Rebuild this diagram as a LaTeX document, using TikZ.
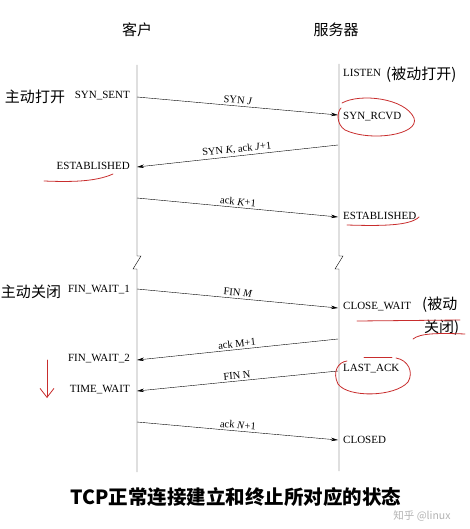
\documentclass[tikz,border=0pt]{standalone}
\usepackage{fontspec}
\setmainfont{Liberation Serif}
\newfontfamily\cjk{Noto Sans CJK SC}
\usetikzlibrary{arrows.meta}
\definecolor{penred}{RGB}{200,45,45}

\begin{document}
\begin{tikzpicture}[x=1pt, y=-1pt, >={Stealth[length=7pt,width=3.5pt]},
  state/.style={font=\fontsize{11}{12}\selectfont, inner sep=1pt},
  msg/.style={font=\fontsize{10.5}{11}\selectfont, above, sloped, inner sep=2pt},
  zh/.style={font=\cjk\fontsize{15}{16}\selectfont, inner sep=0pt},
  pen/.style={penred, thick, line cap=round}]
\useasboundingbox (0,0) rectangle (469,529);

% time lines
\node[zh] (client) at (137,30) {客户};
\node[zh] (server) at (336,30) {服务器};
\coordinate (ctop) at (137,65);
\coordinate (cbot) at (137,472);
\coordinate (stop) at (339,64);
\coordinate (sbot) at (339,471);
\draw (ctop) -- ++(0,191) -- ++(4,0) -- ++(-8,13) -- ++(4,0) -- (cbot);
\draw (stop) -- ++(0,192) -- ++(4,0) -- ++(-8,13) -- ++(4,0) -- (sbot);

% open
\coordinate (c1) at (137,97);  \coordinate (s1) at (338,115);
\coordinate (s2) at (338,145); \coordinate (c2) at (137,167);
\coordinate (c3) at (137,198); \coordinate (s3) at (338,217);
\draw [->] (c1) -- node[msg]{SYN \textit{J}} (s1);
\draw [->] (s2) -- node[msg]{SYN \textit{K}, ack \textit{J}+1} (c2);
\draw [->] (c3) -- node[msg]{ack \textit{K}+1} (s3);

% close
\coordinate (c4) at (137,289); \coordinate (s4) at (338,308);
\coordinate (s5) at (338,339); \coordinate (c5) at (137,360);
\coordinate (s6) at (338,371); \coordinate (c6) at (137,391);
\coordinate (c7) at (137,422); \coordinate (s7) at (338,440);
\draw [->] (c4) -- node[msg]{FIN \textit{M}} (s4);
\draw [->] (s5) -- node[msg]{ack M+1} (c5);
\draw [->] (s6) -- node[msg]{FIN N} (c6);
\draw [->] (c7) -- node[msg]{ack \textit{N}+1} (s7);

% client states
\node[zh] (aopen) at (35,97) {主动打开};
\node[state, anchor=east] (synsent) at (131,96) {SYN\_SENT};
\node[state, anchor=east] (cest) at (131,166) {ESTABLISHED};
\node[zh] (aclose) at (31,292) {主动关闭};
\node[state, anchor=east] (fin1) at (131,290) {FIN\_WAIT\_1};
\node[state, anchor=east] (fin2) at (131,359) {FIN\_WAIT\_2};
\node[state, anchor=east] (tw) at (131,390) {TIME\_WAIT};

% server states
\node[state, anchor=west] (listen) at (342,73) {LISTEN};
\node[zh, anchor=west] (popen) at (386,75) {(被动打开)};
\node[state, anchor=west] (synrcvd) at (342,117) {SYN\_RCVD};
\node[state, anchor=west] (sest) at (342,216) {ESTABLISHED};
\node[state, anchor=west] (closewait) at (342,307) {CLOSE\_WAIT};
\node[zh, anchor=west] (pclose1) at (422,305) {(被动};
\node[zh, anchor=west] (pclose2) at (424,328) {关闭)};
\node[state, anchor=west] (lastack) at (342,369) {LAST\_ACK};
\node[state, anchor=west] (closed) at (342,440) {CLOSED};

% red pen marks
\draw [pen] (342,103) .. controls (360,93) and (405,98) .. (414,118)
  .. controls (420,135) and (370,142) .. (345,130)
  .. controls (336,124) and (337,112) .. (341,108);
\draw [pen] (44,181) .. controls (70,182) and (95,182) .. (113,174);
\draw [pen] (347,225) .. controls (380,226) and (410,226) .. (419,217);
\draw [pen] (357,321) -- (460,320);
\draw [pen] (413,339) .. controls (420,333) and (440,333) .. (465,334);
\draw [pen] (364,357) -- (392,357);
\draw [pen] (347,361) .. controls (338,362) and (332,372) .. (338,384)
  .. controls (348,398) and (395,397) .. (408,382)
  .. controls (414,372) and (408,360) .. (396,358);
\draw [pen, -{Straight Barb[length=9pt,width=14pt]}] (47,360) -- (47,398);

% caption
\node[font=\cjk\bfseries\fontsize{19.5}{20}\selectfont] (caption) at (236,497)
  {TCP正常连接建立和终止所对应的状态};
\node[font=\cjk\fontsize{10.5}{11}\selectfont, text=black!30] (mark) at (422,516)
  {知乎 @linux};
\end{tikzpicture}
\end{document}
